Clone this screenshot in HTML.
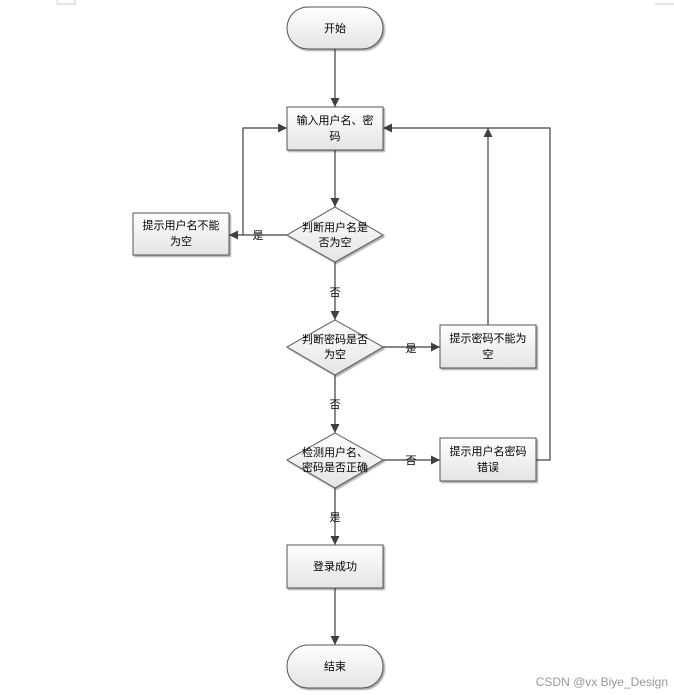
<!DOCTYPE html>
<html><head><meta charset="utf-8"><style>
html,body{margin:0;padding:0;background:#fff;width:674px;height:695px;overflow:hidden}
svg{display:block}
text{font-family:"Liberation Sans","Noto Sans CJK SC",sans-serif;font-size:11px;fill:#000}
</style></head><body>
<svg width="674" height="695" viewBox="0 0 674 695">
<defs>
<linearGradient id="g" x1="0" y1="0" x2="0" y2="1"><stop offset="0" stop-color="#ffffff"/><stop offset="1" stop-color="#e4e4e4"/></linearGradient>
<marker id="a" viewBox="0 0 10 10" refX="10" refY="5" markerWidth="9" markerHeight="9" orient="auto" markerUnits="userSpaceOnUse"><path d="M0,0L10,5L0,10z" fill="#404040"/></marker>
<filter id="s" x="-10%" y="-10%" width="130%" height="130%"><feDropShadow dx="1.5" dy="1.5" stdDeviation="0.8" flood-color="#000" flood-opacity="0.35"/></filter>
</defs>
<path d="M57,4H75V0M57,0V4" stroke="#ccc" fill="none"/>
<path d="M655,4H674" stroke="#ccc" fill="none"/>
<g stroke="#404040" stroke-width="1.2" fill="none">
<line x1="335" y1="49" x2="335" y2="107" marker-end="url(#a)"/>
<line x1="335" y1="150" x2="335" y2="207" marker-end="url(#a)"/>
<line x1="287" y1="235" x2="229" y2="235" marker-end="url(#a)"/>
<polyline points="243,235 243,128 287,128" marker-end="url(#a)"/>
<line x1="335" y1="262" x2="335" y2="320" marker-end="url(#a)"/>
<line x1="383" y1="347" x2="440" y2="347" marker-end="url(#a)"/>
<line x1="488" y1="325" x2="488" y2="128" marker-end="url(#a)"/>
<line x1="335" y1="375" x2="335" y2="433" marker-end="url(#a)"/>
<line x1="383" y1="460" x2="440" y2="460" marker-end="url(#a)"/>
<polyline points="536,460 550,460 550,128 383,128" marker-end="url(#a)"/>
<line x1="335" y1="488" x2="335" y2="545" marker-end="url(#a)"/>
<line x1="335" y1="588" x2="335" y2="645" marker-end="url(#a)"/>
</g>
<g fill="url(#g)" stroke="#555" stroke-width="1" filter="url(#s)">
<rect x="287" y="7" width="96" height="42" rx="21"/>
<rect x="287" y="107" width="96" height="43"/>
<polygon points="335,207 383,235 335,262 287,235"/>
<rect x="133" y="213" width="96" height="42"/>
<polygon points="335,320 383,347 335,375 287,347"/>
<rect x="440" y="325" width="96" height="43"/>
<polygon points="335,433 383,460 335,488 287,460"/>
<rect x="440" y="438" width="96" height="43"/>
<rect x="287" y="545" width="96" height="43"/>
<rect x="287" y="645" width="96" height="43" rx="21"/>
</g>
<g text-anchor="middle">
<text x="335" y="32">开始</text>
<text x="335" y="124">输入用户名、密</text><text x="335" y="140">码</text>
<text x="335" y="231">判断用户名是</text><text x="335" y="246">否为空</text>
<text x="181" y="229">提示用户名不能</text><text x="181" y="245">为空</text>
<text x="335" y="343">判断密码是否</text><text x="335" y="358">为空</text>
<text x="488" y="342">提示密码不能为</text><text x="488" y="358">空</text>
<text x="335" y="456">检测用户名、</text><text x="335" y="471">密码是否正确</text>
<text x="488" y="455">提示用户名密码</text><text x="488" y="471">错误</text>
<text x="335" y="570">登录成功</text>
<text x="335" y="670">结束</text>
<text x="258" y="239">是</text>
<text x="335" y="296">否</text>
<text x="411" y="352">是</text>
<text x="335" y="408">否</text>
<text x="411" y="464">否</text>
<text x="335" y="521">是</text>
</g>
<text x="668" y="686" text-anchor="end" style="fill:#999;font-size:12px">CSDN @vx Biye_Design</text>
</svg>
</body></html>
